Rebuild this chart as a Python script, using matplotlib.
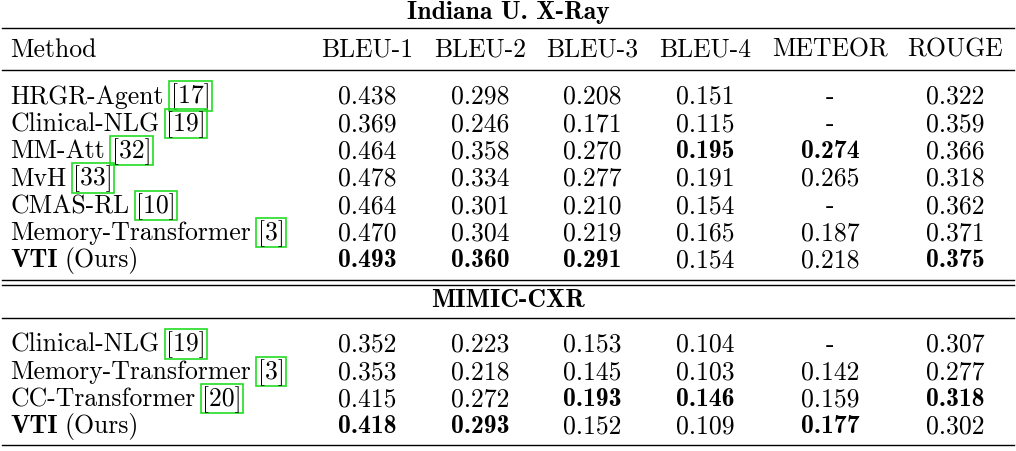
import matplotlib
matplotlib.use("Agg")
import matplotlib.pyplot as plt

cols = ["BLEU-1", "BLEU-2", "BLEU-3", "BLEU-4", "METEOR", "ROUGE"]
indiana_methods = ["HRGR-Agent", "Clinical-NLG", "MM-Att", "MvH", "CMAS-RL", "Memory-Transformer", "VTI"]
indiana_cites = ["17", "19", "32", "33", "10", "3", None]
indiana_vals = [
    ["0.438", "0.298", "0.208", "0.151", "-", "0.322"],
    ["0.369", "0.246", "0.171", "0.115", "-", "0.359"],
    ["0.464", "0.358", "0.270", "0.195", "0.274", "0.366"],
    ["0.478", "0.334", "0.277", "0.191", "0.265", "0.318"],
    ["0.464", "0.301", "0.210", "0.154", "-", "0.362"],
    ["0.470", "0.304", "0.219", "0.165", "0.187", "0.371"],
    ["0.493", "0.360", "0.291", "0.154", "0.218", "0.375"],
]
indiana_bold = [(2, 3), (2, 4), (6, 0), (6, 1), (6, 2), (6, 5)]
mimic_methods = ["Clinical-NLG", "Memory-Transformer", "CC-Transformer", "VTI"]
mimic_cites = ["19", "3", "20", None]
mimic_vals = [
    ["0.352", "0.223", "0.153", "0.104", "-", "0.307"],
    ["0.353", "0.218", "0.145", "0.103", "0.142", "0.277"],
    ["0.415", "0.272", "0.193", "0.146", "0.159", "0.318"],
    ["0.418", "0.293", "0.152", "0.109", "0.177", "0.302"],
]
mimic_bold = [(2, 2), (2, 3), (2, 5), (3, 0), (3, 1), (3, 4)]

W, H = 1016, 452
fig = plt.figure(figsize=(W / 100, H / 100), dpi=100)
ax = fig.add_axes([0, 0, 1, 1])
ax.set_xlim(0, W); ax.set_ylim(H, 0); ax.axis("off")
FS = 18.5
REG, BOLD = "cmr10", "cmb10"
colx = [367, 480, 592, 705, 830, 955]
fig.canvas.draw()
r = fig.canvas.get_renderer()

def hline(y, lw=1.0):
    ax.plot([2, 1014], [y, y], color="black", lw=lw)

def method(y, name, cite):
    bold = name == "VTI"
    t = ax.text(10, y, name, fontfamily=BOLD if bold else REG, fontsize=FS, va="center")
    x = t.get_window_extent(r).x1 + 7
    if cite is None:
        ax.text(x, y, "(Ours)", fontfamily=REG, fontsize=FS, va="center")
    else:
        t2 = ax.text(x, y, "[" + cite + "]", fontfamily=REG, fontsize=FS, va="center",
                     bbox=dict(boxstyle="square,pad=0.05", fc="none", ec="#22dd22", lw=1.2))

def rows(y0, methods, cites, vals, bolds):
    for i, (m, c, v) in enumerate(zip(methods, cites, vals)):
        y = y0 + i * 27.3
        method(y, m, c)
        for j, s in enumerate(v):
            ax.text(colx[j], y, s, fontfamily=BOLD if (i, j) in bolds else REG,
                    fontsize=FS, va="center", ha="center")

ax.text(508, 12, "Indiana U. X-Ray", fontfamily=BOLD, fontsize=FS, ha="center", va="center")
hline(29)
ax.text(10, 50, "Method", fontfamily=REG, fontsize=FS, va="center")
for x, c in zip(colx, cols):
    ax.text(x, 50, c, fontfamily=REG, fontsize=FS, va="center", ha="center")
hline(71)
rows(97, indiana_methods, indiana_cites, indiana_vals, indiana_bold)
hline(281); hline(286)
ax.text(508, 301, "MIMIC-CXR", fontfamily=BOLD, fontsize=FS, ha="center", va="center")
hline(319)
rows(345, mimic_methods, mimic_cites, mimic_vals, mimic_bold)
hline(446)
fig.savefig("out.png", dpi=100)
